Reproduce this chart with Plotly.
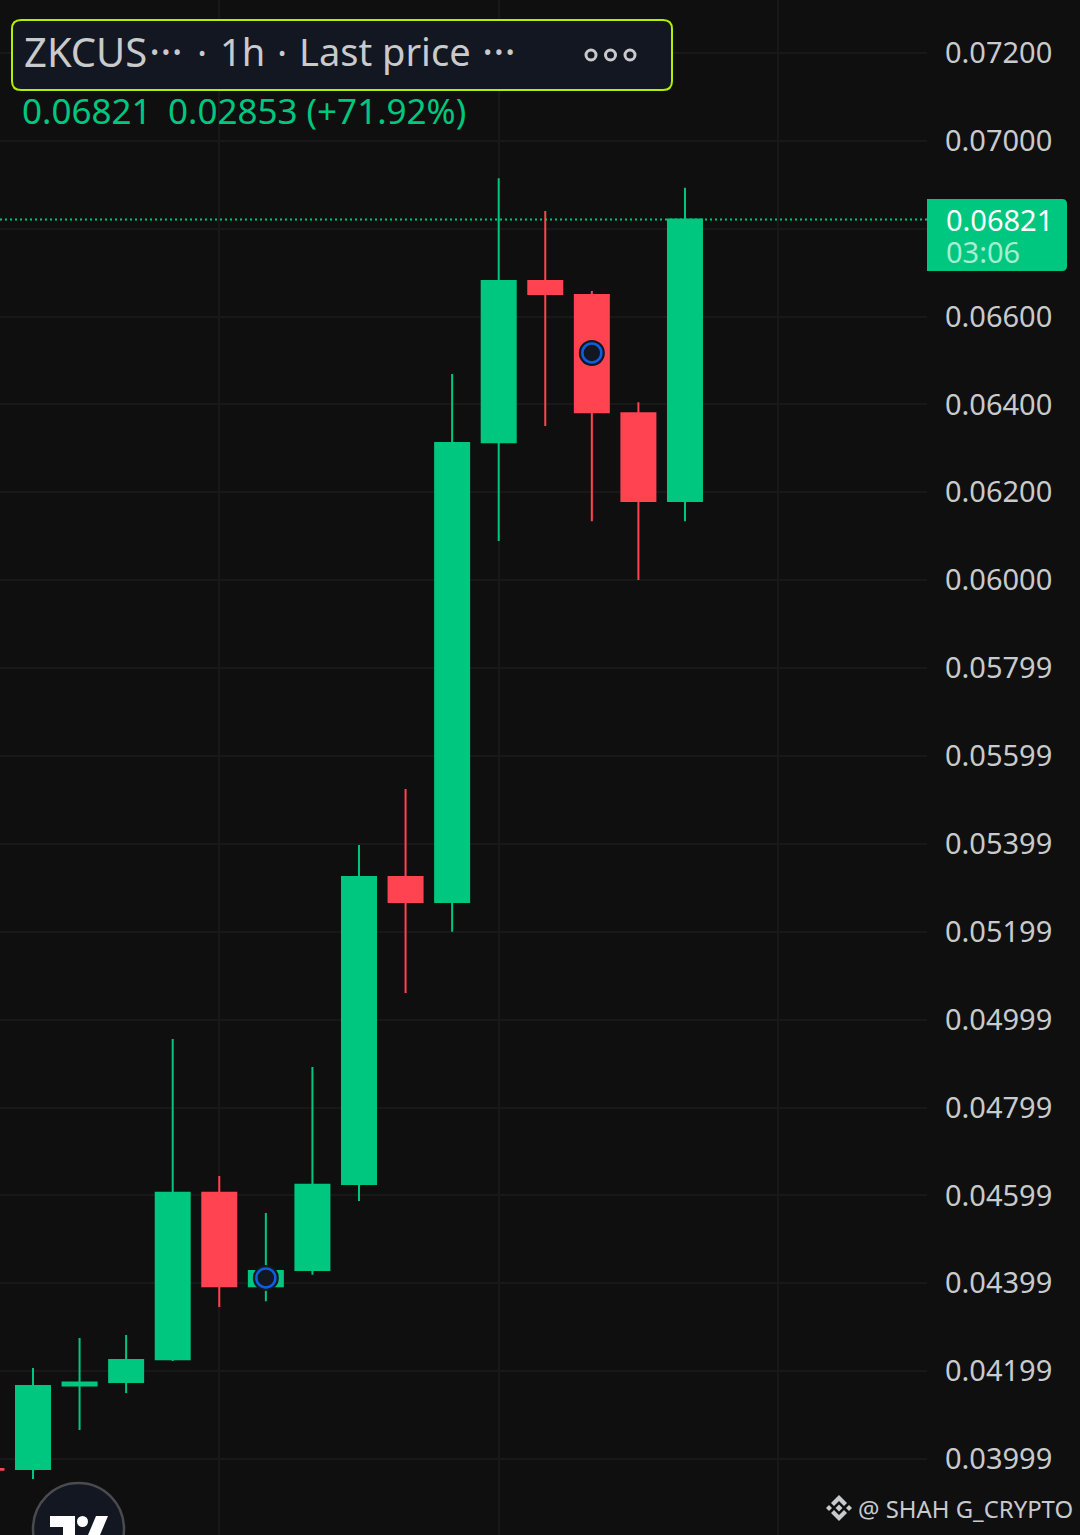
import plotly.graph_objects as go

W, H = 1080, 1535
BG = "#0f0f0f"
GRID = "#181818"
UP = "#00c77f"
DOWN = "#ff4350"
TEXT = "#c9cacc"
FONT = "Noto Sans"

# Candles (index -1 is the stub clipped at the left edge)
candle_x = [-1, 0, 1, 2, 3, 4, 5, 6, 7, 8, 9, 10, 11, 12, 13, 14]
open_ = [.03976, .03976, .04166, .04174, .04226, .04605, .04392, .04429, .04625, .05324, .05267, .06314, .06681, .06649, .06380, .06180]
high = [.03977, .04206, .04274, .04281, .04955, .04643, .04559, .04891, .05397, .05524, .06469, .06915, .06840, .06658, .06405, .06893]
low = [.03973, .03953, .04065, .04149, .04222, .04345, .04358, .04418, .04586, .05060, .05199, .06089, .06351, .06134, .06000, .06134]
close = [.03974, .04165, .04173, .04224, .04605, .04392, .04427, .04623, .05324, .05267, .06312, .06681, .06651, .06382, .06180, .06821]

marker_x = [5, 12]
marker_y = [.04411, .06517]

last_price = 0.06821
tick_vals = [.072, .07, .068, .066, .064, .062, .06, .05799, .05599, .05399, .05199, .04999, .04799, .04599, .04399, .04199, .03999]
tick_text = ["0.07200", "0.07000", "", "0.06600", "0.06400", "0.06200", "0.06000", "0.05799", "0.05599", "0.05399",
             "0.05199", "0.04999", "0.04799", "0.04599", "0.04399", "0.04199", "0.03999"]
vgrid_x = [4, 10, 16]


def px(x):
    return x / W


def py(y):
    return 1 - y / H


def rrect(x0, y0, x1, y1, r):
    return (f"M{px(x0+r)},{py(y0)} L{px(x1-r)},{py(y0)} Q{px(x1)},{py(y0)} {px(x1)},{py(y0+r)} "
            f"L{px(x1)},{py(y1-r)} Q{px(x1)},{py(y1)} {px(x1-r)},{py(y1)} L{px(x0+r)},{py(y1)} "
            f"Q{px(x0)},{py(y1)} {px(x0)},{py(y1-r)} L{px(x0)},{py(y0+r)} Q{px(x0)},{py(y0)} {px(x0+r)},{py(y0)} Z")


def poly(points):
    return "M" + " L".join(f"{px(a)},{py(b)}" for a, b in points) + " Z"


fig = go.Figure()
fig.add_trace(go.Candlestick(
    x=candle_x, open=open_, high=high, low=low, close=close,
    increasing=dict(line=dict(color=UP, width=2), fillcolor=UP),
    decreasing=dict(line=dict(color=DOWN, width=2), fillcolor=DOWN),
    whiskerwidth=0, hoverinfo="skip", showlegend=False,
))
fig.add_trace(go.Scatter(x=marker_x, y=marker_y, mode="markers", hoverinfo="skip", showlegend=False,
                         marker=dict(size=26, color="#131722", line=dict(width=0))))
fig.add_trace(go.Scatter(x=marker_x, y=marker_y, mode="markers", hoverinfo="skip", showlegend=False,
                         marker=dict(size=19, color="#131722", line=dict(width=2.5, color="#0d5fe0"))))

shapes = [
    dict(type="line", xref="paper", yref="y", x0=0, x1=px(927), y0=last_price, y1=last_price,
         line=dict(color=UP, width=2, dash="2px,3px")),
    # Header box
    dict(type="path", xref="paper", yref="paper", path=rrect(12, 20, 672, 90, 9),
         fillcolor="#131722", line=dict(color="#b2f000", width=2)),
    # Price tag
    dict(type="path", xref="paper", yref="paper",
         path=(f"M{px(927)},{py(199)} L{px(1062)},{py(199)} Q{px(1067)},{py(199)} {px(1067)},{py(204)} "
               f"L{px(1067)},{py(266)} Q{px(1067)},{py(271)} {px(1062)},{py(271)} L{px(927)},{py(271)} Z"),
         fillcolor=UP, line=dict(width=0)),
    # TradingView badge
    dict(type="circle", xref="paper", yref="paper", x0=px(33), x1=px(124), y0=py(1483), y1=py(1575),
         fillcolor="#131722", line=dict(color="#4a4b50", width=2.5)),
    dict(type="path", xref="paper", yref="paper",
         path=poly([(50, 1516), (75, 1516), (75, 1535), (63, 1535), (63, 1527), (50, 1527)]),
         fillcolor="#ffffff", line=dict(width=0)),
    dict(type="circle", xref="paper", yref="paper", x0=px(77), x1=px(88), y0=py(1516), y1=py(1527),
         fillcolor="#ffffff", line=dict(width=0)),
    dict(type="path", xref="paper", yref="paper",
         path=poly([(96, 1516), (108, 1516), (100, 1535), (88, 1535)]),
         fillcolor="#ffffff", line=dict(width=0)),
]
# Three-ring menu icon
for cx in [591, 610.5, 630]:
    shapes.append(dict(type="circle", xref="paper", yref="paper", x0=px(cx - 5), x1=px(cx + 5),
                       y0=py(50), y1=py(60), line=dict(color=TEXT, width=3)))
# Watermark diamond icon
for pts in [
    [(839, 1495), (847, 1503), (844, 1506), (839, 1501), (834, 1506), (831, 1503)],
    [(839, 1521), (847, 1513), (844, 1510), (839, 1515), (834, 1510), (831, 1513)],
    [(829, 1505), (832, 1508), (829, 1511), (826, 1508)],
    [(849, 1505), (852, 1508), (849, 1511), (846, 1508)],
    [(839, 1504.5), (842.5, 1508), (839, 1511.5), (835.5, 1508)],
]:
    shapes.append(dict(type="path", xref="paper", yref="paper", path=poly(pts),
                       fillcolor=TEXT, line=dict(width=0)))


def label(x, y, text, size, color=TEXT, anchor="left"):
    return dict(xref="paper", yref="paper", x=px(x), y=py(y), text=text, showarrow=False,
                xanchor=anchor, yanchor="middle", align="left",
                font=dict(family=FONT, size=size, color=color))


annotations = [
    label(22, 51.5, "ZKCUS", 40),
    label(147, 51, "···", 42),
    label(195, 52, "·", 38),
    label(218, 51.5, "1h", 38),
    label(275, 52, "·", 38),
    label(297, 51.5, "Last price", 38),
    label(480, 51, "···", 42),
    label(20, 110.5, "0.06821", 35, UP),
    label(166, 110.5, "0.02853 (+71.92%)", 35, UP),
    label(944, 219, "0.06821", 29, "#ffffff"),
    label(944, 251.5, "03:06", 29, "#a6eed3"),
    label(856, 1508.5, "@ SHAH G_CRYPTO", 23.9),
]

fig.update_layout(
    width=W, height=H, margin=dict(l=0, r=0, t=0, b=0),
    paper_bgcolor=BG, plot_bgcolor=BG, boxgap=0.27, boxgroupgap=0, boxmode="overlay",
    showlegend=False, shapes=shapes, annotations=annotations,
    xaxis=dict(domain=[0, 927 / W], range=[-0.7086, 19.197], rangeslider=dict(visible=False),
               tickmode="array", tickvals=vgrid_x, showticklabels=False, ticks="",
               showgrid=True, gridcolor=GRID, gridwidth=2, zeroline=False, showline=False),
    yaxis=dict(range=[0.0382568, 0.0732067], side="right", anchor="x",
               tickmode="array", tickvals=tick_vals, ticktext=tick_text, ticks="", ticklabelstandoff=17,
               tickfont=dict(family=FONT, size=29, color=TEXT),
               showgrid=True, gridcolor=GRID, gridwidth=2, zeroline=False, showline=False),
)

fig.write_html("out.html", config=dict(displayModeBar=False),
               post_script="document.body.style.margin='0';document.body.style.overflow='hidden';")
